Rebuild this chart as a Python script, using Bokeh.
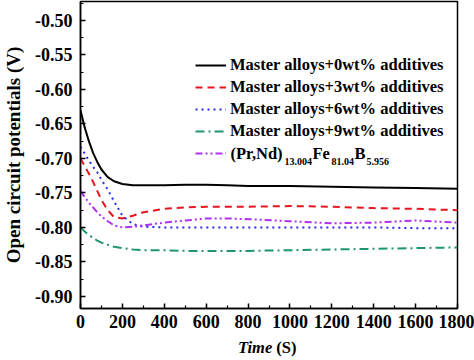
from bokeh.plotting import figure
from bokeh.layouts import column
from bokeh.models import Range1d, FixedTicker, Legend, LegendItem, Label, CustomJSTickFormatter, Div
from bokeh.embed import file_html
from bokeh.resources import INLINE

# ---- data ----
time_s = [0, 20, 40, 60, 80, 100, 130, 160, 200, 250, 300, 400, 500, 600, 700, 800,
          1000, 1200, 1400, 1600, 1800]
ocp_0wt = [-0.630, -0.655, -0.675, -0.692, -0.705, -0.716, -0.727, -0.733, -0.737, -0.739,
           -0.739, -0.739, -0.738, -0.738, -0.739, -0.740, -0.740, -0.741, -0.742, -0.743, -0.744]
ocp_3wt = [-0.700, -0.711, -0.722, -0.734, -0.747, -0.760, -0.775, -0.785, -0.787, -0.783,
           -0.778, -0.773, -0.771, -0.770, -0.770, -0.770, -0.769, -0.770, -0.772, -0.773, -0.775]
ocp_6wt = [-0.683, -0.693, -0.703, -0.712, -0.720, -0.731, -0.745, -0.762, -0.783, -0.795,
           -0.799, -0.800, -0.800, -0.800, -0.800, -0.800, -0.800, -0.800, -0.800, -0.801, -0.801]
ocp_9wt = [-0.800, -0.806, -0.811, -0.815, -0.819, -0.822, -0.825, -0.828, -0.830, -0.832,
           -0.833, -0.833, -0.834, -0.834, -0.834, -0.834, -0.833, -0.832, -0.831, -0.830, -0.829]
ocp_prnd = [-0.747, -0.756, -0.764, -0.771, -0.778, -0.784, -0.791, -0.797, -0.800, -0.799,
            -0.797, -0.793, -0.790, -0.787, -0.787, -0.788, -0.791, -0.794, -0.793, -0.790, -0.793]

series_labels = ["Master alloys+0wt% additives", "Master alloys+3wt% additives",
                 "Master alloys+6wt% additives", "Master alloys+9wt% additives", " "]
formula_parts = ["(Pr,Nd)", "13.004", "Fe", "81.04", "B", "5.956"]

x_ticks = [0, 200, 400, 600, 800, 1000, 1200, 1400, 1600, 1800]
x_minor = [100, 300, 500, 700, 900, 1100, 1300, 1500, 1700]
x_tick_labels = ["0", "200", "400", "600", "800", "1000", "1200", "1400", "1600", "1800"]
y_ticks = [-0.90, -0.85, -0.80, -0.75, -0.70, -0.65, -0.60, -0.55, -0.50]
y_minor = [-0.875, -0.825, -0.775, -0.725, -0.675, -0.625, -0.575, -0.525, -0.475]
y_tick_labels = ["-0.90", "-0.85", "-0.80", "-0.75", "-0.70", "-0.65", "-0.60", "-0.55", "-0.50"]
x_title_italic = "Time"
x_title_unit = "(S)"
y_title = "Open circuit potentials (V)"

FONT = "Liberation Serif"

p = figure(width=474, height=338, output_backend="svg", toolbar_location=None,
           x_range=Range1d(0, 1800), y_range=Range1d(-0.9175, -0.4725),
           min_border_left=77, min_border_right=17, min_border_top=1, min_border_bottom=30)
p.background_fill_color = "white"
p.border_fill_color = "white"
p.outline_line_color = "black"
p.outline_line_width = 1.5
p.grid.visible = False

styles = [
    (ocp_0wt, "black", "solid"),
    (ocp_3wt, "#e8141e", "7 5"),
    (ocp_6wt, "#2828f0", "2 4"),
    (ocp_9wt, "#1f9470", "9 4 2 4"),
    (ocp_prnd, "#b030f0", "7 3 2 3 2 3"),
]
renderers = []
for ys, col, dash in styles:
    r = p.line(time_s, ys, line_color=col, line_width=2, line_dash=dash)
    renderers.append(r)

def fmt(vals, labs):
    return CustomJSTickFormatter(args=dict(vals=vals, labs=labs), code="""
        let best = 0;
        for (let i = 0; i < vals.length; i++) {
            if (Math.abs(vals[i] - tick) < Math.abs(vals[best] - tick)) best = i;
        }
        return labs[best];
    """)

xa = p.xaxis[0]
xa.ticker = FixedTicker(ticks=x_ticks, minor_ticks=x_minor)
xa.formatter = fmt(x_ticks, x_tick_labels)
ya = p.yaxis[0]
ya.ticker = FixedTicker(ticks=y_ticks, minor_ticks=y_minor)
ya.formatter = fmt(y_ticks, y_tick_labels)

for ax in (xa, ya):
    ax.axis_line_color = "black"
    ax.axis_line_width = 1.5
    ax.major_tick_in = 5
    ax.major_tick_out = 0
    ax.minor_tick_in = 3
    ax.minor_tick_out = 0
    ax.major_tick_line_width = 1.5
    ax.minor_tick_line_width = 1.2
    ax.major_tick_line_color = "black"
    ax.minor_tick_line_color = "black"
    ax.major_label_text_font = FONT
    ax.major_label_text_font_style = "bold"
    ax.major_label_text_font_size = "18px"
    ax.major_label_text_color = "black"
xa.major_label_standoff = 6
ya.major_label_standoff = 8

ya.axis_label = y_title
ya.axis_label_text_font = FONT
ya.axis_label_text_font_style = "bold"
ya.axis_label_text_font_size = "19px"
ya.axis_label_text_color = "black"
ya.axis_label_standoff = 8

# legend
items = [LegendItem(label=lab, renderers=[r]) for lab, r in zip(series_labels, renderers)]
leg_x, leg_y = 115, 145
legend = Legend(items=items, location=(leg_x, leg_y), padding=0, margin=0, spacing=2,
                glyph_width=31, glyph_height=20, label_height=20, label_standoff=4,
                label_text_font=FONT, label_text_font_style="bold", label_text_font_size="16.5px",
                label_text_color="black", border_line_color=None, background_fill_alpha=0)
p.add_layout(legend)

# formula label for last legend entry (with subscripts)
row_y = leg_y + 10
tx = leg_x + 31 + 4
offsets = [0, 54, 82, 101, 124, 136]
for i, (part, off) in enumerate(zip(formula_parts, offsets)):
    sub = (i % 2 == 1)
    p.add_layout(Label(x=tx + off, y=row_y - (8 if sub else 0), x_units="screen", y_units="screen",
                       text=part, text_font=FONT, text_font_style="bold",
                       text_font_size="10px" if sub else "16.5px",
                       text_baseline="middle", text_align="left", text_color="black"))

# x-axis title (italic "Time" + upright "(S)") below the plot
xt = Div(width=474, height=20, text=(
    '<div style="position:relative; left:233px; top:-4px; width:200px; line-height:18px; '
    'white-space:nowrap; margin:0; padding:0; '
    'font-family:\'Liberation Serif\'; font-weight:bold; font-size:16.5px; color:black;">'
    '<i>' + x_title_italic + '</i> ' + x_title_unit + '</div>'))

layout = column(p, xt, spacing=0)
open("out.html", "w").write(file_html(layout, INLINE))
